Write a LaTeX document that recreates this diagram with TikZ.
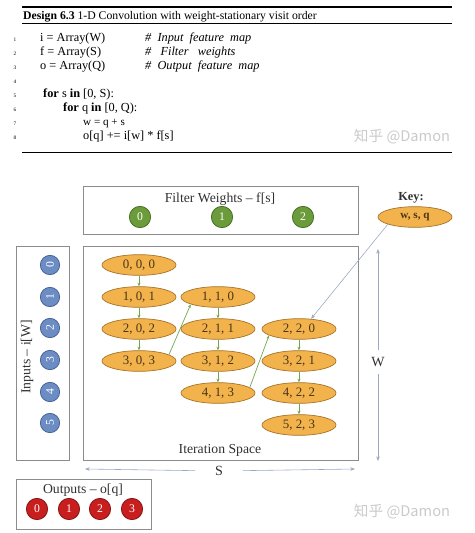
\documentclass[tikz,border=0pt]{standalone}
\usepackage{fontspec}
\setmainfont{Liberation Serif}
\newfontfamily\cjk{Noto Sans CJK SC}
\usepackage{tikz}
\usetikzlibrary{arrows.meta,shapes.geometric}
\definecolor{frame}{HTML}{8C8C8C}
\definecolor{ink}{HTML}{303030}
\definecolor{oval}{HTML}{F2B24C}
\definecolor{ovalline}{HTML}{A8742A}
\definecolor{ovaltext}{HTML}{4A3418}
\definecolor{wgreen}{HTML}{6B9B3A}
\definecolor{wgreenline}{HTML}{3F6A1E}
\definecolor{iblue}{HTML}{6C8CC4}
\definecolor{ibluedark}{HTML}{3E5C8E}
\definecolor{ored}{HTML}{C81E1E}
\definecolor{oredline}{HTML}{7E1010}
\definecolor{flowgreen}{HTML}{6EA84A}
\definecolor{dimline}{HTML}{9AA8C0}
\definecolor{wmark}{HTML}{CACACA}
\tikzset{
  box/.style={draw=frame, line width=0.8pt},
  ttl/.style={text=ink, font=\fontsize{11.7}{13}\selectfont},
  itv/.style={ellipse, draw=ovalline, fill=oval, line width=0.6pt, minimum width=2.22cm, minimum height=0.62cm, inner sep=0pt, text=ovaltext, font=\fontsize{11}{11}\selectfont},
  wt/.style={circle, draw=wgreenline, fill=wgreen, line width=0.6pt, minimum size=0.64cm, inner sep=0pt, text=white, font=\fontsize{10}{10}\selectfont},
  inp/.style={circle, draw=ibluedark, fill=iblue, line width=0.6pt, minimum size=0.58cm, inner sep=0pt, text=white, rotate=90, font=\fontsize{10}{10}\selectfont},
  outp/.style={circle, draw=oredline, fill=ored, line width=0.6pt, minimum size=0.64cm, inner sep=0pt, text=white, font=\fontsize{10}{10}\selectfont},
  flow/.style={draw=flowgreen, line width=0.6pt, -{Stealth[length=3pt,width=2.5pt]}},
  dimarr/.style={draw=dimline, line width=0.5pt, -{Stealth[length=4pt,width=3pt]}},
  code/.style={anchor=base west, inner sep=0pt, font=\fontsize{10.5}{12}\selectfont},
  lno/.style={anchor=base, inner sep=0pt, font=\fontsize{4.5}{5}\selectfont},
  wm/.style={text=wmark, font=\cjk\fontsize{12.5}{14}\selectfont}
}
\begin{document}
\begin{tikzpicture}[x=0.03cm, y=-0.03cm]
\useasboundingbox (0,0) rectangle (474,533);
% listing
\draw[line width=1pt] (22,7) -- (452,7);
\node[code, font=\fontsize{10}{12}\selectfont] (head) at (23,19) {\textbf{Design 6.3} 1-D Convolution with weight-stationary visit order};
\draw[line width=0.4pt] (22,23) -- (452,23);
\foreach \n/\y in {1/41,2/55,3/69,4/83,5/97,6/111,7/125,8/139}
  \node[lno] (ln\n) at (15,\y) {\n};
\node[code] (c1) at (40,41) {i = Array(W)};
\node[code] (c2) at (40,55) {f = Array(S)};
\node[code] (c3) at (40,69) {o = Array(Q)};
\node[code] (k1) at (145,41) {\textit{\#\ \ Input\ \ feature\ \ map}};
\node[code] (k2) at (145,55) {\textit{\#\ \ \ Filter\ \ \ weights}};
\node[code] (k3) at (145,69) {\textit{\#\ \ Output\ \ feature\ \ map}};
\node[code] (c5) at (43,97) {\textbf{for} s \textbf{in} [0,\ S):};
\node[code] (c6) at (63,111) {\textbf{for} q \textbf{in} [0,\ Q):};
\node[code, font=\fontsize{9.5}{12}\selectfont] (c7) at (83,125) {w = q + s};
\node[code] (c8) at (83,139) {o[q] += i[w] * f[s]};
\draw[line width=0.4pt] (22,152) -- (452,152);
\node[wm] (wm1) at (402,137) {知乎 @Damon};

% filter weights
\draw[box] (83,186) rectangle (358,234);
\node[ttl] (ftitle) at (220,199) {Filter Weights -- f[s]};
\foreach \s/\x in {0/140,1/222,2/303}
  \node[wt] (f\s) at (\x,217) {\s};

% inputs
\draw[box] (16,246) rectangle (69,460);
\node[ttl, rotate=90] (ititle) at (27,357) {Inputs -- i[W]};
\foreach \w/\y in {0/265,1/297,2/328,3/360,4/392,5/423}
  \node[inp] (i\w) at (50,\y) {\w};

% iteration space
\draw[box] (83,246) rectangle (358,460);
\foreach \w/\s/\q/\x/\y in {0/0/0/139/265,1/0/1/139/297,2/0/2/139/329,3/0/3/139/361,
    1/1/0/218/297,2/1/1/218/329,3/1/2/218/361,4/1/3/218/393,
    2/2/0/299/329,3/2/1/299/361,4/2/2/299/393,5/2/3/299/425}
  \node[itv] (e\w\s\q) at (\x,\y) {\w, \s, \q};
\node[ttl] (itertitle) at (220,450) {Iteration Space};
\draw[flow] (e000) -- (e101);
\draw[flow] (e101) -- (e202);
\draw[flow] (e202) -- (e303);
\draw[flow] (e303.12) -- (e110.195);
\draw[flow] (e110) -- (e211);
\draw[flow] (e211) -- (e312);
\draw[flow] (e312) -- (e413);
\draw[flow] (e413.10) -- (e220.192);
\draw[flow] (e220) -- (e321);
\draw[flow] (e321) -- (e422);
\draw[flow] (e422) -- (e523);

% key
\node[ttl, font=\bfseries\fontsize{10.5}{12}\selectfont] (keylbl) at (411,198) {Key:};
\node[itv, font=\bfseries\fontsize{9.5}{10}\selectfont] (key) at (415,217) {w, s, q};
\draw[dimarr] (key.195) -- (e220.40);

% dimensions
\coordinate (wtop) at (378,249);
\coordinate (wbot) at (378,461);
\node[ttl, font=\fontsize{12}{12}\selectfont, inner sep=6pt] (wlbl) at (378,362) {W};
\draw[dimarr] (wlbl) -- (wtop);
\draw[dimarr] (wlbl) -- (wbot);
\coordinate (sleft) at (85,469);
\coordinate (sright) at (355,469);
\node[ttl, font=\fontsize{12}{12}\selectfont, inner sep=0pt, minimum width=1.4cm, minimum height=0.4cm] (slbl) at (219,471) {S};
\draw[dimarr] (slbl) -- (sleft);
\draw[dimarr] (slbl) -- (sright);

% outputs
\draw[box] (16,479) rectangle (151,529);
\node[ttl] (otitle) at (83,490) {Outputs -- o[q]};
\foreach \q/\x in {0/37,1/69,2/100,3/132}
  \node[outp] (o\q) at (\x,509) {\q};
\node[wm] (wm2) at (402,512) {知乎 @Damon};
\end{tikzpicture}
\end{document}
